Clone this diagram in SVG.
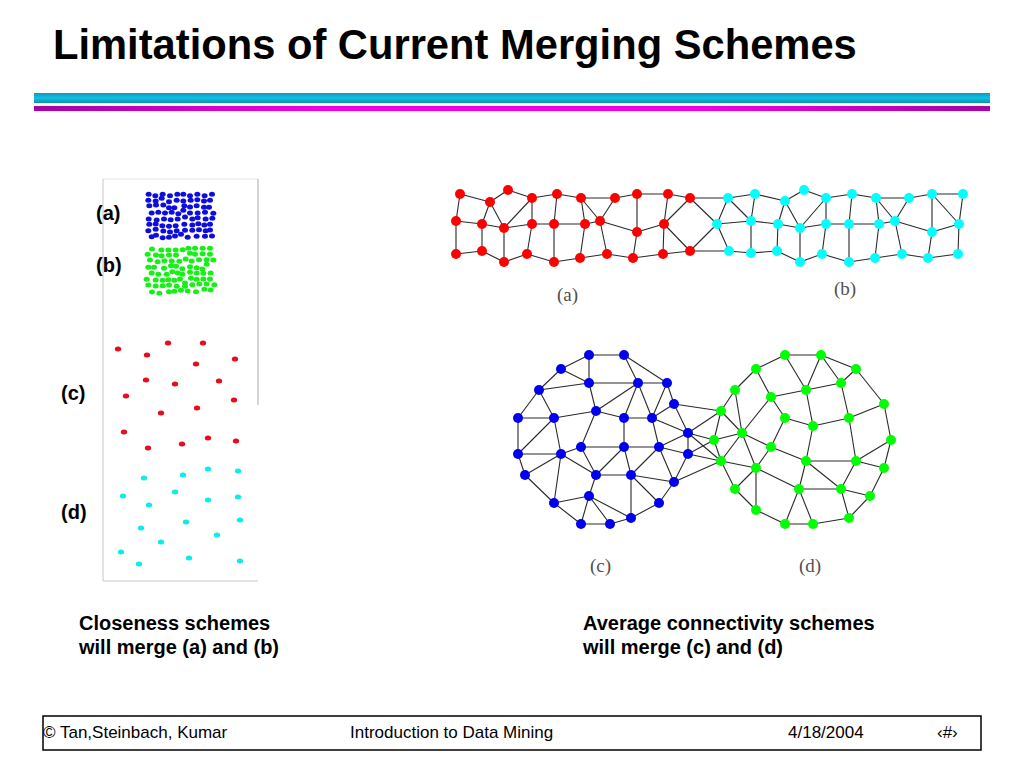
<svg xmlns="http://www.w3.org/2000/svg" width="1024" height="768" viewBox="0 0 1024 768">
<style>
text{font-family:"Liberation Sans",Arial,sans-serif;fill:#000}
.t{font-size:41.7px;font-weight:700}
.b{font-size:20px;font-weight:700}
.f{font-size:17px}
.s{font-family:"Liberation Serif","Times New Roman",serif;font-size:19px;fill:#505050}
#connectors path{fill:none;stroke:#2a2a2a;stroke-width:1.1}
.r circle{fill:#f00}.c circle{fill:#0ff}.u circle{fill:#00e}.g circle{fill:#0f0}
.dense ellipse{rx:9px;ry:7.5px}
.sparse ellipse{rx:3.2px;ry:2.5px}
</style>
<defs>
<linearGradient id="tl" x1="0" y1="0" x2="0" y2="1"><stop offset="0" stop-color="#1098b8"/><stop offset=".5" stop-color="#10c0e4"/><stop offset="1" stop-color="#0c94b0"/></linearGradient>
<linearGradient id="mg" x1="0" y1="0" x2="1" y2="0"><stop offset="0" stop-color="#a800a8"/><stop offset=".3" stop-color="#f000e8"/><stop offset=".7" stop-color="#f000e8"/><stop offset="1" stop-color="#a800a8"/></linearGradient>
<filter id="sf" x="-5%" y="-5%" width="110%" height="110%"><feGaussianBlur stdDeviation=".35"/></filter>
</defs>
<rect width="1024" height="768" fill="#fff"/>
<text class="t" x="53" y="59">Limitations of Current Merging Schemes</text>
<rect x="34" y="93" width="956" height="10" fill="url(#tl)"/>
<rect x="34" y="106" width="956" height="5" fill="url(#mg)"/>

<g id="scatter-frame" fill="none" stroke="#c8c8c8">
<path d="M103 179H258" stroke="#e4e4e4"/><path d="M103 179V581H258"/><path d="M258 179V405" stroke="#aaa"/>
</g>
<g id="scatter-a" class="dense" fill="#1010e0" transform="translate(95 175) scale(.3333)" filter="url(#sf)">
<ellipse cx="161" cy="58"/><ellipse cx="203" cy="58"/><ellipse cx="247" cy="58"/><ellipse cx="265" cy="58"/><ellipse cx="307" cy="58"/><ellipse cx="351" cy="58"/><ellipse cx="181" cy="62"/><ellipse cx="225" cy="62"/><ellipse cx="285" cy="62"/><ellipse cx="329" cy="62"/>
<ellipse cx="160" cy="76"/><ellipse cx="182" cy="78"/><ellipse cx="200" cy="70"/><ellipse cx="222" cy="80"/><ellipse cx="245" cy="76"/><ellipse cx="265" cy="78"/><ellipse cx="287" cy="76"/><ellipse cx="307" cy="74"/><ellipse cx="327" cy="78"/><ellipse cx="345" cy="76"/>
<ellipse cx="163" cy="92"/><ellipse cx="183" cy="90"/><ellipse cx="205" cy="90"/><ellipse cx="222" cy="98"/><ellipse cx="238" cy="98"/><ellipse cx="268" cy="92"/><ellipse cx="285" cy="96"/><ellipse cx="305" cy="92"/><ellipse cx="327" cy="97"/><ellipse cx="342" cy="97"/>
<ellipse cx="170" cy="114"/><ellipse cx="190" cy="112"/><ellipse cx="210" cy="114"/><ellipse cx="230" cy="112"/><ellipse cx="250" cy="116"/><ellipse cx="265" cy="106"/><ellipse cx="285" cy="114"/><ellipse cx="308" cy="114"/><ellipse cx="330" cy="112"/><ellipse cx="355" cy="115"/>
<ellipse cx="161" cy="132"/><ellipse cx="185" cy="135"/><ellipse cx="207" cy="132"/><ellipse cx="227" cy="134"/><ellipse cx="248" cy="132"/><ellipse cx="270" cy="126"/><ellipse cx="292" cy="132"/><ellipse cx="308" cy="128"/><ellipse cx="332" cy="132"/><ellipse cx="352" cy="130"/>
<ellipse cx="163" cy="148"/><ellipse cx="182" cy="147"/><ellipse cx="202" cy="152"/><ellipse cx="222" cy="154"/><ellipse cx="242" cy="152"/><ellipse cx="268" cy="148"/><ellipse cx="292" cy="150"/><ellipse cx="310" cy="146"/><ellipse cx="328" cy="150"/><ellipse cx="345" cy="148"/>
<ellipse cx="160" cy="167"/><ellipse cx="182" cy="163"/><ellipse cx="205" cy="168"/><ellipse cx="225" cy="171"/><ellipse cx="245" cy="167"/><ellipse cx="270" cy="166"/><ellipse cx="292" cy="166"/><ellipse cx="312" cy="164"/><ellipse cx="332" cy="167"/><ellipse cx="345" cy="165"/>
<ellipse cx="170" cy="185"/><ellipse cx="183" cy="181"/><ellipse cx="203" cy="188"/><ellipse cx="222" cy="187"/><ellipse cx="240" cy="183"/><ellipse cx="258" cy="178"/><ellipse cx="278" cy="187"/><ellipse cx="305" cy="184"/><ellipse cx="330" cy="184"/><ellipse cx="351" cy="183"/>
</g>
<g id="scatter-b" class="dense" fill="#14f014" transform="translate(95 175) scale(.3333)" filter="url(#sf)">
<ellipse cx="171" cy="222"/><ellipse cx="199" cy="225"/><ellipse cx="220" cy="225"/><ellipse cx="242" cy="225"/><ellipse cx="263" cy="224"/><ellipse cx="280" cy="220"/><ellipse cx="300" cy="220"/><ellipse cx="323" cy="220"/><ellipse cx="345" cy="220"/>
<ellipse cx="158" cy="238"/><ellipse cx="183" cy="240"/><ellipse cx="200" cy="242"/><ellipse cx="222" cy="240"/><ellipse cx="243" cy="240"/><ellipse cx="285" cy="235"/><ellipse cx="300" cy="238"/><ellipse cx="323" cy="236"/><ellipse cx="345" cy="238"/>
<ellipse cx="165" cy="255"/><ellipse cx="188" cy="260"/><ellipse cx="208" cy="257"/><ellipse cx="230" cy="258"/><ellipse cx="253" cy="259"/><ellipse cx="272" cy="252"/><ellipse cx="290" cy="258"/><ellipse cx="312" cy="254"/><ellipse cx="335" cy="254"/><ellipse cx="355" cy="255"/>
<ellipse cx="160" cy="277"/><ellipse cx="177" cy="277"/><ellipse cx="207" cy="280"/><ellipse cx="228" cy="272"/><ellipse cx="243" cy="274"/><ellipse cx="262" cy="281"/><ellipse cx="285" cy="275"/><ellipse cx="305" cy="278"/><ellipse cx="322" cy="282"/><ellipse cx="335" cy="268"/>
<ellipse cx="170" cy="294"/><ellipse cx="190" cy="298"/><ellipse cx="215" cy="298"/><ellipse cx="232" cy="290"/><ellipse cx="248" cy="294"/><ellipse cx="262" cy="298"/><ellipse cx="285" cy="292"/><ellipse cx="305" cy="294"/><ellipse cx="325" cy="295"/><ellipse cx="347" cy="294"/>
<ellipse cx="155" cy="313"/><ellipse cx="182" cy="315"/><ellipse cx="203" cy="316"/><ellipse cx="220" cy="314"/><ellipse cx="238" cy="316"/><ellipse cx="255" cy="312"/><ellipse cx="270" cy="324"/><ellipse cx="288" cy="310"/><ellipse cx="305" cy="313"/><ellipse cx="325" cy="312"/><ellipse cx="345" cy="312"/>
<ellipse cx="160" cy="330"/><ellipse cx="182" cy="333"/><ellipse cx="203" cy="332"/><ellipse cx="222" cy="330"/><ellipse cx="245" cy="334"/><ellipse cx="270" cy="334"/><ellipse cx="292" cy="329"/><ellipse cx="313" cy="327"/><ellipse cx="335" cy="327"/><ellipse cx="358" cy="329"/>
<ellipse cx="171" cy="351"/><ellipse cx="193" cy="355"/><ellipse cx="222" cy="350"/><ellipse cx="238" cy="349"/><ellipse cx="258" cy="346"/><ellipse cx="278" cy="348"/><ellipse cx="303" cy="350"/><ellipse cx="328" cy="343"/><ellipse cx="347" cy="345"/>
</g>
<g id="scatter-c" class="sparse" fill="#e8101c" filter="url(#sf)">
<ellipse cx="118" cy="349"/><ellipse cx="147" cy="355"/><ellipse cx="168" cy="343"/><ellipse cx="203" cy="343"/><ellipse cx="196" cy="364"/><ellipse cx="235" cy="359"/><ellipse cx="146" cy="380"/><ellipse cx="175" cy="384"/><ellipse cx="219" cy="381"/><ellipse cx="126" cy="396"/><ellipse cx="234" cy="400"/><ellipse cx="161" cy="413"/><ellipse cx="197" cy="408"/><ellipse cx="124" cy="432"/><ellipse cx="148" cy="448"/><ellipse cx="182" cy="444"/><ellipse cx="208" cy="438"/><ellipse cx="236" cy="441"/>
</g>
<g id="scatter-d" class="sparse" fill="#10ecec" filter="url(#sf)">
<ellipse cx="144" cy="478"/><ellipse cx="183" cy="475"/><ellipse cx="208" cy="469"/><ellipse cx="238" cy="471"/><ellipse cx="123" cy="496"/><ellipse cx="149" cy="505"/><ellipse cx="175" cy="492"/><ellipse cx="208" cy="500"/><ellipse cx="238" cy="497"/><ellipse cx="141" cy="528"/><ellipse cx="186" cy="522"/><ellipse cx="240" cy="520"/><ellipse cx="217" cy="535"/><ellipse cx="161" cy="542"/><ellipse cx="121" cy="552"/><ellipse cx="139" cy="564"/><ellipse cx="189" cy="558"/><ellipse cx="240" cy="561"/>
</g>
<text class="b" x="96" y="220">(a)</text>
<text class="b" x="96" y="272">(b)</text>
<text class="b" x="61" y="400">(c)</text>
<text class="b" x="61" y="519">(d)</text>
<text class="b" x="79" y="630">Closeness schemes</text>
<text class="b" x="79" y="654">will merge (a) and (b)</text>
<text class="b" x="583" y="630">Average connectivity schemes</text>
<text class="b" x="583" y="654">will merge (c) and (d)</text>

<g id="connectors" filter="url(#sf)">
<path d="M460 194L490 202M460 194L456 221M490 202L508 190M490 202L482 224M490 202L504 228M508 190L532 198M532 198L557 194M532 198L504 228M532 198L532 224M557 194L581 198M557 194L554 224M581 198L615 198M581 198L585 224M581 198L600 221M615 198L600 221M615 198L637 194M637 194L668 194M637 194L637 232M668 194L690 198M668 194L664 224M690 198L664 224M690 198L728 198M690 198L717 224"/>
<path d="M456 221L482 224M456 221L456 254M482 224L504 228M482 224L482 251M504 228L532 224M504 228L504 262M532 224L554 224M532 224L527 254M554 224L585 224M554 224L554 262M585 224L600 221M585 224L580 258M600 221L637 232M600 221L607 254M637 232L664 224M637 232L633 258M664 224L663 254M664 224L690 251M456 254L482 251M482 251L504 262M504 262L527 254M527 254L554 262M554 262L580 258M580 258L607 254M607 254L633 258M633 258L663 254M663 254L690 251M690 251L729 251M690 251L717 224"/>
<path d="M728 198L755 194M728 198L717 224M728 198L751 221M755 194L785 201M755 194L751 221M785 201L804 190M785 201L778 224M785 201L800 228M804 190L826 198M826 198L852 194M826 198L800 228M826 198L826 224M852 194L876 198M852 194L849 224M876 198L909 198M876 198L879 224M876 198L895 221M909 198L932 194M909 198L895 221M932 194L963 194M932 194L932 232M932 194L959 224M963 194L959 224"/>
<path d="M717 224L751 221M717 224L729 251M751 221L778 224M751 221L751 253M778 224L800 228M778 224L777 251M800 228L826 224M800 228L800 262M826 224L849 224M826 224L822 254M849 224L879 224M849 224L849 262M879 224L895 221M879 224L875 258M895 221L932 232M895 221L902 254M932 232L959 224M932 232L928 258M959 224L958 254M729 251L751 253M751 253L777 251M777 251L800 262M800 262L822 254M822 254L849 262M849 262L875 258M875 258L902 254M902 254L928 258M928 258L958 254"/>
<path d="M589 355L624 355M589 355L561 369M589 355L589 383M624 355L638 383M624 355L667 383M561 369L539 390M561 369L589 383M589 383L638 383M589 383L539 390M589 383L596 411M638 383L667 383M638 383L596 411M638 383L624 418M638 383L652 418M667 383L652 418M667 383L674 404M539 390L518 418M539 390L554 418M674 404L652 418M674 404L688 433M674 404L721 411M596 411L554 418M596 411L624 418M596 411L581 447M518 418L554 418M518 418L518 454M554 418L518 454M554 418L561 454M624 418L652 418M624 418L624 447M652 418L688 433M652 418L659 447M688 433L659 447M688 433L688 454M688 433L721 411M688 433L714 440M688 433L721 461M581 447L624 447M581 447L561 454M581 447L596 475M624 447L659 447M624 447L596 475M624 447L631 475M659 447L688 454M659 447L631 475M659 447L674 482M518 454L561 454M518 454L525 475M561 454L525 475M561 454L596 475M561 454L554 503M688 454L674 482M688 454L714 440M688 454L721 461M525 475L554 503M596 475L631 475M596 475L589 496M631 475L674 482M631 475L659 503M631 475L631 518M674 482L659 503M674 482L721 461M589 496L554 503M589 496L581 524M589 496L610 524M589 496L631 518M554 503L581 524M659 503L631 518M631 518L610 524M581 524L610 524"/>
<path d="M785 355L821 355M785 355L756 369M785 355L806 390M821 355L856 369M821 355L841 383M821 355L806 390M756 369L735 390M756 369L771 397M856 369L841 383M856 369L884 404M841 383L806 390M841 383L849 418M806 390L771 397M806 390L813 426M735 390L721 411M735 390L742 433M771 397L785 418M771 397L742 433M884 404L849 418M884 404L891 440M721 411L742 433M721 411L714 440M785 418L813 426M785 418L771 447M849 418L813 426M849 418L856 461M813 426L806 461M742 433L714 440M742 433L771 447M742 433L721 461M742 433L756 468M891 440L856 461M891 440L884 468M714 440L721 461M771 447L806 461M771 447L756 468M721 461L756 468M721 461L735 489M806 461L856 461M806 461L799 489M806 461L841 489M856 461L884 468M856 461L841 489M756 468L735 489M756 468L799 489M756 468L756 510M884 468L870 496M799 489L841 489M799 489L785 524M799 489L813 524M841 489L870 496M841 489L849 518M870 496L849 518M735 489L756 510M756 510L785 524M785 524L813 524M813 524L849 518"/>
</g>

<g filter="url(#sf)">
<g class="r"><g id="a1"><circle cx="460" cy="194" r="5"/></g><g id="a2"><circle cx="490" cy="202" r="5"/></g><g id="a3"><circle cx="508" cy="190" r="5"/></g><g id="a4"><circle cx="532" cy="198" r="5"/></g><g id="a5"><circle cx="557" cy="194" r="5"/></g><g id="a6"><circle cx="581" cy="198" r="5"/></g><g id="a7"><circle cx="615" cy="198" r="5"/></g><g id="a8"><circle cx="637" cy="194" r="5"/></g><g id="a9"><circle cx="668" cy="194" r="5"/></g><g id="a10"><circle cx="690" cy="198" r="5"/></g><g id="a11"><circle cx="456" cy="221" r="5"/></g><g id="a12"><circle cx="482" cy="224" r="5"/></g><g id="a13"><circle cx="504" cy="228" r="5"/></g><g id="a14"><circle cx="532" cy="224" r="5"/></g><g id="a15"><circle cx="554" cy="224" r="5"/></g><g id="a16"><circle cx="585" cy="224" r="5"/></g><g id="a17"><circle cx="600" cy="221" r="5"/></g><g id="a18"><circle cx="637" cy="232" r="5"/></g><g id="a19"><circle cx="664" cy="224" r="5"/></g><g id="a20"><circle cx="456" cy="254" r="5"/></g><g id="a21"><circle cx="482" cy="251" r="5"/></g><g id="a22"><circle cx="504" cy="262" r="5"/></g><g id="a23"><circle cx="527" cy="254" r="5"/></g><g id="a24"><circle cx="554" cy="262" r="5"/></g><g id="a25"><circle cx="580" cy="258" r="5"/></g><g id="a26"><circle cx="607" cy="254" r="5"/></g><g id="a27"><circle cx="633" cy="258" r="5"/></g><g id="a28"><circle cx="663" cy="254" r="5"/></g><g id="a29"><circle cx="690" cy="251" r="5"/></g></g>
<g class="c"><g id="b1"><circle cx="728" cy="198" r="5"/></g><g id="b2"><circle cx="755" cy="194" r="5"/></g><g id="b3"><circle cx="785" cy="201" r="5"/></g><g id="b4"><circle cx="804" cy="190" r="5"/></g><g id="b5"><circle cx="826" cy="198" r="5"/></g><g id="b6"><circle cx="852" cy="194" r="5"/></g><g id="b7"><circle cx="876" cy="198" r="5"/></g><g id="b8"><circle cx="909" cy="198" r="5"/></g><g id="b9"><circle cx="932" cy="194" r="5"/></g><g id="b10"><circle cx="963" cy="194" r="5"/></g><g id="b11"><circle cx="717" cy="224" r="5"/></g><g id="b12"><circle cx="751" cy="221" r="5"/></g><g id="b13"><circle cx="778" cy="224" r="5"/></g><g id="b14"><circle cx="800" cy="228" r="5"/></g><g id="b15"><circle cx="826" cy="224" r="5"/></g><g id="b16"><circle cx="849" cy="224" r="5"/></g><g id="b17"><circle cx="879" cy="224" r="5"/></g><g id="b18"><circle cx="895" cy="221" r="5"/></g><g id="b19"><circle cx="932" cy="232" r="5"/></g><g id="b20"><circle cx="959" cy="224" r="5"/></g><g id="b21"><circle cx="729" cy="251" r="5"/></g><g id="b22"><circle cx="751" cy="253" r="5"/></g><g id="b23"><circle cx="777" cy="251" r="5"/></g><g id="b24"><circle cx="800" cy="262" r="5"/></g><g id="b25"><circle cx="822" cy="254" r="5"/></g><g id="b26"><circle cx="849" cy="262" r="5"/></g><g id="b27"><circle cx="875" cy="258" r="5"/></g><g id="b28"><circle cx="902" cy="254" r="5"/></g><g id="b29"><circle cx="928" cy="258" r="5"/></g><g id="b30"><circle cx="958" cy="254" r="5"/></g></g>
<g class="u"><g id="c1"><circle cx="589" cy="355" r="5"/></g><g id="c2"><circle cx="624" cy="355" r="5"/></g><g id="c3"><circle cx="561" cy="369" r="5"/></g><g id="c4"><circle cx="589" cy="383" r="5"/></g><g id="c5"><circle cx="638" cy="383" r="5"/></g><g id="c6"><circle cx="667" cy="383" r="5"/></g><g id="c7"><circle cx="539" cy="390" r="5"/></g><g id="c8"><circle cx="674" cy="404" r="5"/></g><g id="c9"><circle cx="596" cy="411" r="5"/></g><g id="c10"><circle cx="518" cy="418" r="5"/></g><g id="c11"><circle cx="554" cy="418" r="5"/></g><g id="c12"><circle cx="624" cy="418" r="5"/></g><g id="c13"><circle cx="652" cy="418" r="5"/></g><g id="c14"><circle cx="688" cy="433" r="5"/></g><g id="c15"><circle cx="581" cy="447" r="5"/></g><g id="c16"><circle cx="624" cy="447" r="5"/></g><g id="c17"><circle cx="659" cy="447" r="5"/></g><g id="c18"><circle cx="518" cy="454" r="5"/></g><g id="c19"><circle cx="561" cy="454" r="5"/></g><g id="c20"><circle cx="688" cy="454" r="5"/></g><g id="c21"><circle cx="525" cy="475" r="5"/></g><g id="c22"><circle cx="596" cy="475" r="5"/></g><g id="c23"><circle cx="631" cy="475" r="5"/></g><g id="c24"><circle cx="674" cy="482" r="5"/></g><g id="c25"><circle cx="589" cy="496" r="5"/></g><g id="c26"><circle cx="554" cy="503" r="5"/></g><g id="c27"><circle cx="659" cy="503" r="5"/></g><g id="c28"><circle cx="631" cy="518" r="5"/></g><g id="c29"><circle cx="581" cy="524" r="5"/></g><g id="c30"><circle cx="610" cy="524" r="5"/></g></g>
<g class="g"><g id="d1"><circle cx="785" cy="355" r="5"/></g><g id="d2"><circle cx="821" cy="355" r="5"/></g><g id="d3"><circle cx="756" cy="369" r="5"/></g><g id="d4"><circle cx="856" cy="369" r="5"/></g><g id="d5"><circle cx="841" cy="383" r="5"/></g><g id="d6"><circle cx="806" cy="390" r="5"/></g><g id="d7"><circle cx="735" cy="390" r="5"/></g><g id="d8"><circle cx="771" cy="397" r="5"/></g><g id="d9"><circle cx="884" cy="404" r="5"/></g><g id="d10"><circle cx="721" cy="411" r="5"/></g><g id="d11"><circle cx="785" cy="418" r="5"/></g><g id="d12"><circle cx="849" cy="418" r="5"/></g><g id="d13"><circle cx="813" cy="426" r="5"/></g><g id="d14"><circle cx="742" cy="433" r="5"/></g><g id="d15"><circle cx="891" cy="440" r="5"/></g><g id="d16"><circle cx="714" cy="440" r="5"/></g><g id="d17"><circle cx="771" cy="447" r="5"/></g><g id="d18"><circle cx="721" cy="461" r="5"/></g><g id="d19"><circle cx="806" cy="461" r="5"/></g><g id="d20"><circle cx="856" cy="461" r="5"/></g><g id="d21"><circle cx="756" cy="468" r="5"/></g><g id="d22"><circle cx="884" cy="468" r="5"/></g><g id="d23"><circle cx="735" cy="489" r="5"/></g><g id="d24"><circle cx="799" cy="489" r="5"/></g><g id="d25"><circle cx="841" cy="489" r="5"/></g><g id="d26"><circle cx="870" cy="496" r="5"/></g><g id="d27"><circle cx="756" cy="510" r="5"/></g><g id="d28"><circle cx="849" cy="518" r="5"/></g><g id="d29"><circle cx="785" cy="524" r="5"/></g><g id="d30"><circle cx="813" cy="524" r="5"/></g></g>
</g>
<text class="s" x="557" y="301">(a)</text>
<text class="s" x="834" y="295">(b)</text>
<text class="s" x="590" y="572">(c)</text>
<text class="s" x="799" y="572">(d)</text>

<g id="footer">
<rect x="43" y="716" width="938" height="34" fill="none" stroke="#000" stroke-width="1.5"/>
<text class="f" x="43" y="738">© Tan,Steinbach, Kumar</text>
<text class="f" x="350" y="738">Introduction to Data Mining</text>
<text class="f" x="788" y="738">4/18/2004</text>
<text class="f" x="937" y="738">‹#›</text>
</g>
</svg>
